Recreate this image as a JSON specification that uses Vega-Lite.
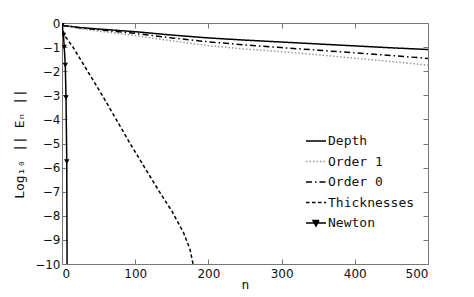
{
  "$schema": "https://vega.github.io/schema/vega-lite/v6.json",
  "autosize": {"type": "none"},
  "padding": {"left": 62, "top": 23, "right": 46, "bottom": 33},
  "width": 366,
  "height": 241,
  "background": "white",
  "config": {
    "view": {"stroke": "#777", "strokeWidth": 1},
    "axis": {"grid": false, "domain": false, "tickColor": "#777", "labelFont": "DejaVu Sans", "labelFontSize": 12, "labelColor": "#111", "titleFont": "DejaVu Sans Mono", "titleFontSize": 13, "titleFontWeight": "normal", "titleColor": "#111"}
  },
  "datasets": {
    "curves": [
      {"series": "Depth", "n": 0, "v": -0.1},
      {"series": "Depth", "n": 25, "v": -0.19},
      {"series": "Depth", "n": 50, "v": -0.25},
      {"series": "Depth", "n": 100, "v": -0.36},
      {"series": "Depth", "n": 150, "v": -0.5},
      {"series": "Depth", "n": 200, "v": -0.62},
      {"series": "Depth", "n": 250, "v": -0.71},
      {"series": "Depth", "n": 300, "v": -0.79},
      {"series": "Depth", "n": 350, "v": -0.87},
      {"series": "Depth", "n": 400, "v": -0.95},
      {"series": "Depth", "n": 450, "v": -1.03},
      {"series": "Depth", "n": 500, "v": -1.1},
      {"series": "Order 1", "n": 0, "v": -0.1},
      {"series": "Order 1", "n": 25, "v": -0.24},
      {"series": "Order 1", "n": 50, "v": -0.34},
      {"series": "Order 1", "n": 100, "v": -0.52},
      {"series": "Order 1", "n": 150, "v": -0.74},
      {"series": "Order 1", "n": 200, "v": -0.94},
      {"series": "Order 1", "n": 250, "v": -1.08},
      {"series": "Order 1", "n": 300, "v": -1.19},
      {"series": "Order 1", "n": 350, "v": -1.32},
      {"series": "Order 1", "n": 400, "v": -1.46},
      {"series": "Order 1", "n": 450, "v": -1.6},
      {"series": "Order 1", "n": 500, "v": -1.75},
      {"series": "Order 0", "n": 0, "v": -0.1},
      {"series": "Order 0", "n": 25, "v": -0.2},
      {"series": "Order 0", "n": 50, "v": -0.28},
      {"series": "Order 0", "n": 100, "v": -0.43},
      {"series": "Order 0", "n": 150, "v": -0.62},
      {"series": "Order 0", "n": 200, "v": -0.78},
      {"series": "Order 0", "n": 250, "v": -0.91},
      {"series": "Order 0", "n": 300, "v": -1.02},
      {"series": "Order 0", "n": 350, "v": -1.13},
      {"series": "Order 0", "n": 400, "v": -1.24},
      {"series": "Order 0", "n": 450, "v": -1.35},
      {"series": "Order 0", "n": 500, "v": -1.47},
      {"series": "Thicknesses", "n": 0, "v": -0.1},
      {"series": "Thicknesses", "n": 3, "v": -0.5},
      {"series": "Thicknesses", "n": 15, "v": -1.0},
      {"series": "Thicknesses", "n": 35, "v": -2.0},
      {"series": "Thicknesses", "n": 55, "v": -3.0},
      {"series": "Thicknesses", "n": 74, "v": -4.0},
      {"series": "Thicknesses", "n": 93, "v": -5.0},
      {"series": "Thicknesses", "n": 113, "v": -6.0},
      {"series": "Thicknesses", "n": 133, "v": -7.0},
      {"series": "Thicknesses", "n": 150, "v": -7.8},
      {"series": "Thicknesses", "n": 166, "v": -8.7},
      {"series": "Thicknesses", "n": 175, "v": -9.4},
      {"series": "Thicknesses", "n": 179, "v": -10.0},
      {"series": "Newton", "n": 0, "v": -0.1},
      {"series": "Newton", "n": 2, "v": -0.5},
      {"series": "Newton", "n": 3, "v": -1.0},
      {"series": "Newton", "n": 4.5, "v": -1.75},
      {"series": "Newton", "n": 5.5, "v": -3.1},
      {"series": "Newton", "n": 6.5, "v": -5.75},
      {"series": "Newton", "n": 7.5, "v": -16}
    ]
  },
  "data": {"name": "curves"},
  "layer": [
    {
      "mark": {"type": "line", "strokeWidth": 1.5, "clip": true},
      "encoding": {
        "x": {"field": "n", "type": "quantitative", "scale": {"domain": [0, 500], "nice": false, "zero": false},
              "axis": {"orient": "bottom", "values": [0, 100, 200, 300, 400, 500], "tickSize": -5, "labelPadding": 9, "title": "n", "titlePadding": -1}},
        "y": {"field": "v", "type": "quantitative", "scale": {"domain": [-10, 0], "nice": false, "zero": false},
              "axis": {"orient": "left", "values": [0, -1, -2, -3, -4, -5, -6, -7, -8, -9, -10], "tickSize": -5, "labelPadding": 7, "title": "Log₁₀ || Eₙ ||", "titlePadding": 8}},
        "detail": {"field": "series"},
        "order": {"field": "n", "type": "quantitative"},
        "color": {"field": "series", "type": "nominal",
                  "scale": {"domain": ["Depth", "Order 1", "Order 0", "Thicknesses", "Newton"], "range": ["#000000", "#999999", "#000000", "#000000", "#000000"]},
                  "legend": {"orient": "none", "legendX": 243, "legendY": 107, "title": null, "symbolType": "stroke", "symbolSize": 400, "symbolStrokeWidth": 1.5,
                             "labelFont": "DejaVu Sans Mono", "labelFontSize": 13, "labelColor": "#111", "labelOffset": 1, "rowPadding": 2.5, "padding": 0,
                             "encode": {"symbols": {"update": {"shape": {"signal": "datum.value === 'Newton' ? 'M-1,0L1,0M-0.3,-0.25L0.3,-0.25L0,0.3Z' : 'stroke'"}, "fill": {"value": "#000"}}}}}},
        "strokeDash": {"field": "series", "type": "nominal",
                       "scale": {"domain": ["Depth", "Order 1", "Order 0", "Thicknesses", "Newton"], "range": [[1, 0], [1.5, 2], [6, 3, 1.5, 3], [3.5, 2.5], [1, 0]]},
                       "legend": {"orient": "none", "legendX": 243, "legendY": 107, "title": null, "symbolType": "stroke", "symbolSize": 400, "symbolStrokeWidth": 1.5,
                             "labelFont": "DejaVu Sans Mono", "labelFontSize": 13, "labelColor": "#111", "labelOffset": 1, "rowPadding": 2.5, "padding": 0,
                             "encode": {"symbols": {"update": {"shape": {"signal": "datum.value === 'Newton' ? 'M-1,0L1,0M-0.3,-0.25L0.3,-0.25L0,0.3Z' : 'stroke'"}, "fill": {"value": "#000"}}}}}}
      }
    },
    {
      "transform": [{"filter": "datum.series === 'Newton'"}],
      "mark": {"type": "point", "shape": "triangle-down", "filled": true, "size": 30, "color": "#000", "opacity": 1, "clip": true},
      "encoding": {
        "x": {"field": "n", "type": "quantitative", "axis": {"orient": "top", "values": [0, 100, 200, 300, 400, 500], "tickSize": -5, "labels": false, "title": null}},
        "y": {"field": "v", "type": "quantitative", "axis": {"orient": "right", "values": [0, -1, -2, -3, -4, -5, -6, -7, -8, -9, -10], "tickSize": -5, "labels": false, "title": null}}
      }
    }
  ]
}
